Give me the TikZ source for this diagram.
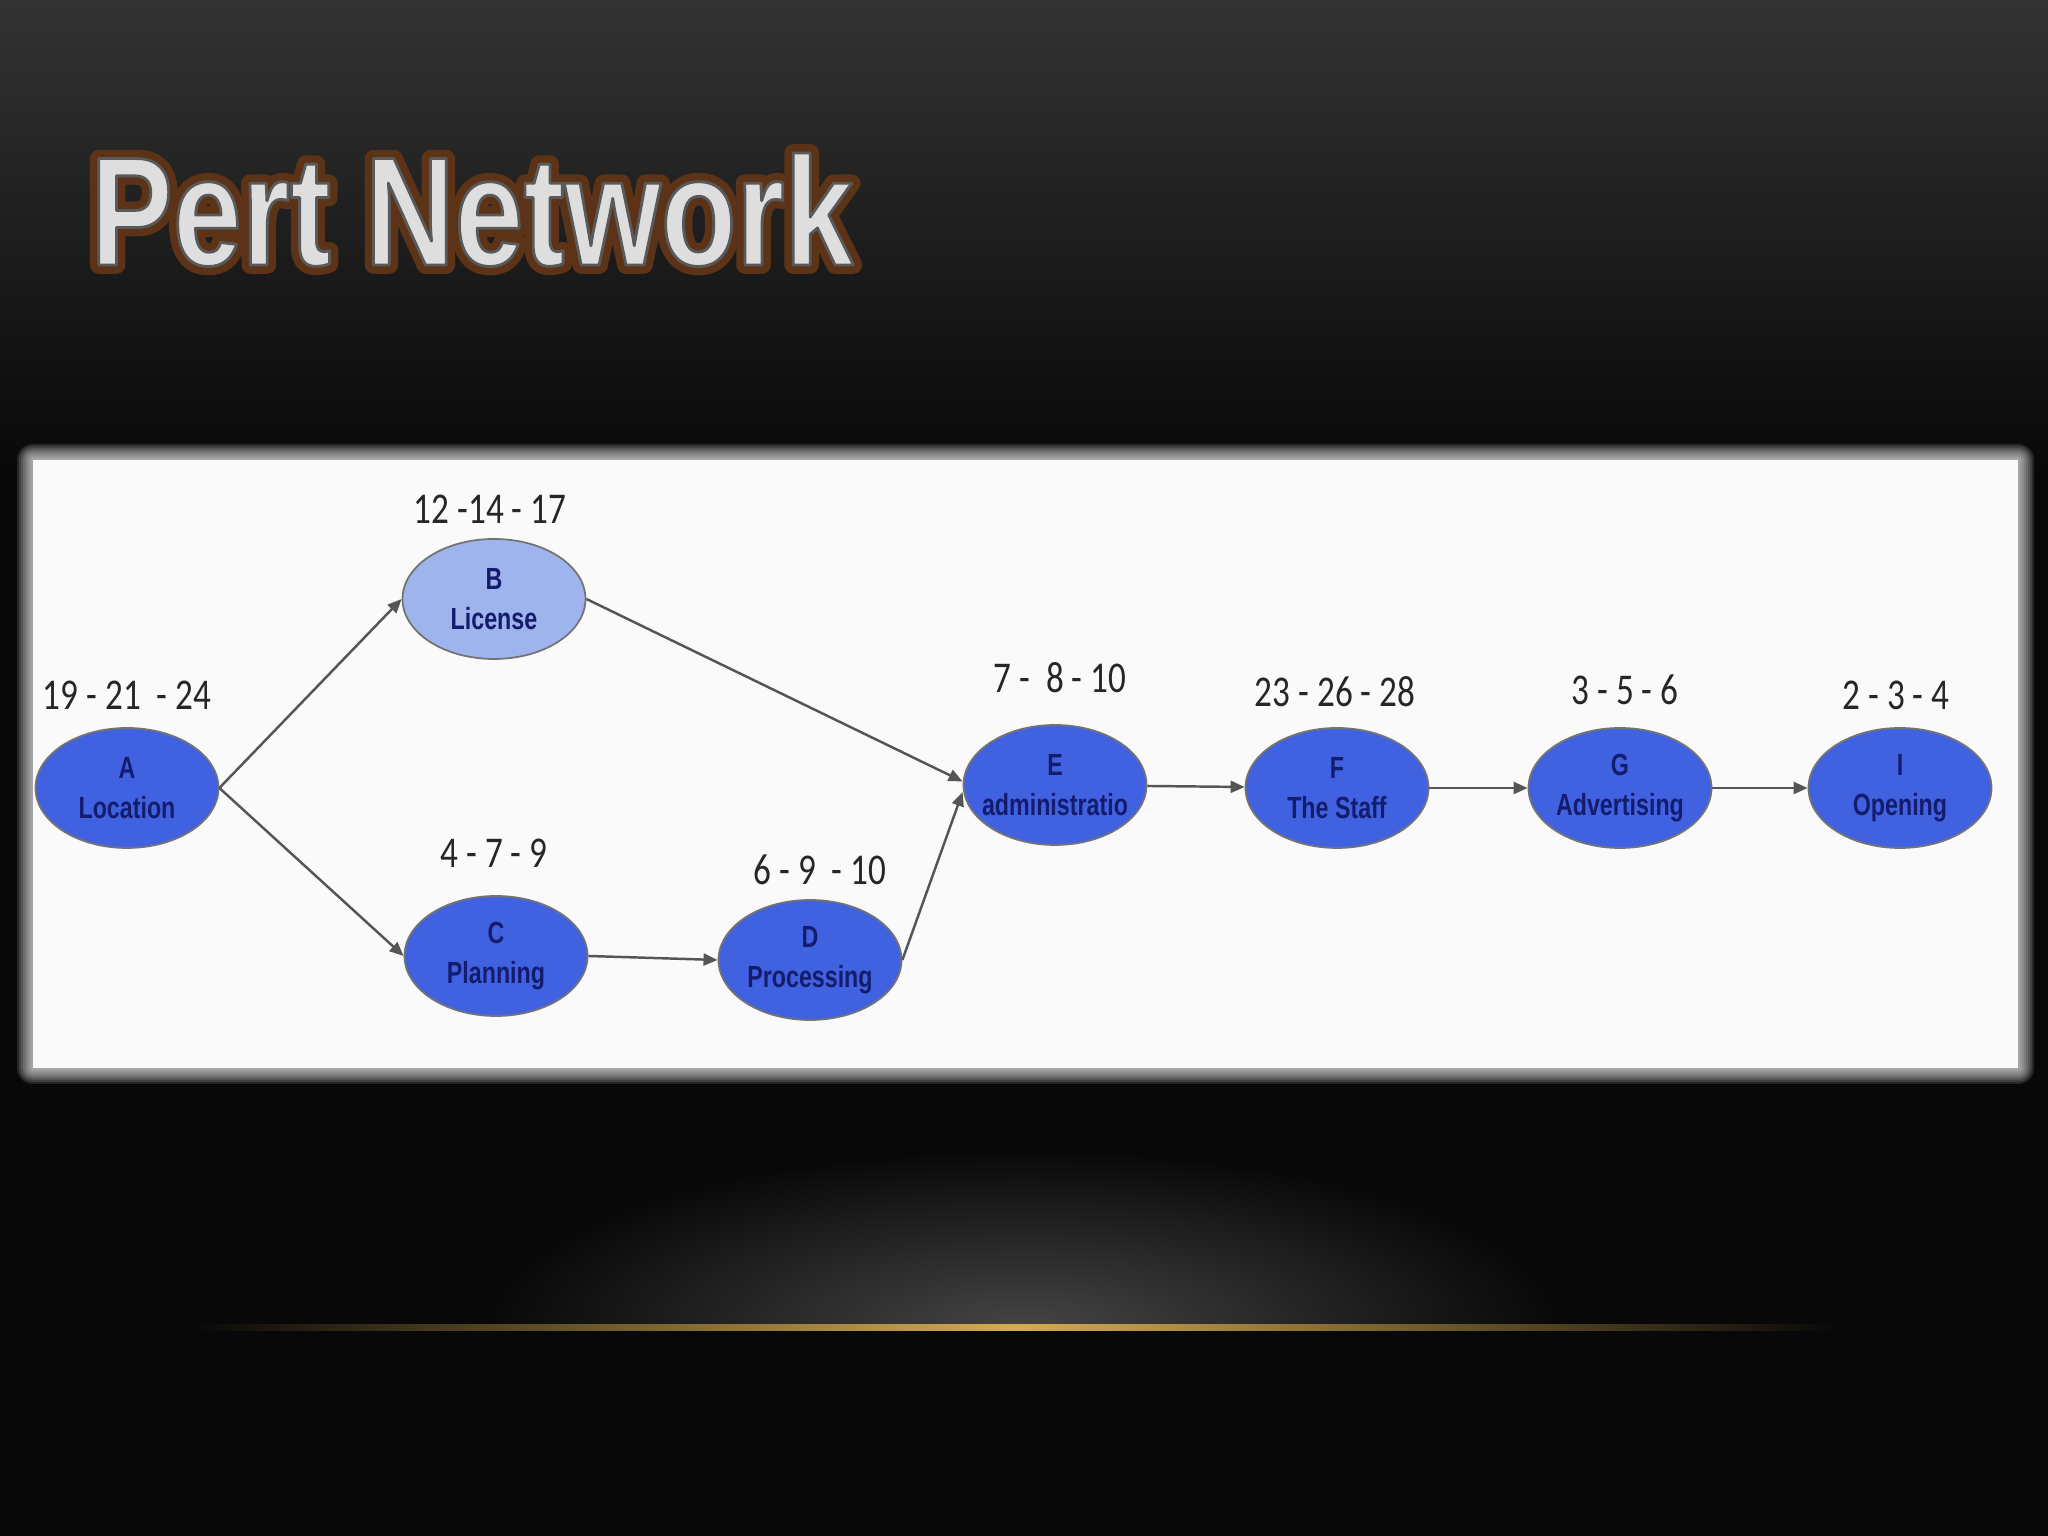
\documentclass[tikz,border=0pt]{standalone}
\usepackage{fontspec}
\usetikzlibrary{arrows.meta,shapes.geometric,positioning}
\newfontfamily\titlefont[FakeStretch=0.8]{Liberation Sans}
\newfontfamily\actfont[FakeStretch=0.76]{Liberation Sans}
\newfontfamily\timefont[FakeStretch=0.8]{Carlito}
\definecolor{actblue}{RGB}{64,98,224}
\definecolor{actlight}{RGB}{158,180,236}
\definecolor{acttext}{RGB}{20,28,110}
\definecolor{edgegray}{RGB}{85,85,85}
\definecolor{titlesilver}{RGB}{222,222,222}
\definecolor{gold}{RGB}{214,172,80}
% outlined title text: brown halo under a silver fill with a thin grey rim
\newcommand\halotext[1]{%
  \rlap{\special{pdf:literal direct 0.36 0.2 0.09 RG 5 w 1 j 1 Tr}#1\special{pdf:literal direct 0 Tr}}%
  \special{pdf:literal direct 0.35 0.35 0.35 RG 0.8 w 2 Tr}#1\special{pdf:literal direct 0 Tr 0 0 0 RG 0.4 w 0 j}}
\begin{document}
\begin{tikzpicture}[
  act/.style={ellipse,draw=black!55,line width=0.5pt,fill=actblue,
    minimum width=1.83cm,minimum height=1.2cm,inner sep=0pt,align=center,
    font=\actfont\bfseries\fontsize{8.7}{11.4}\selectfont,text=acttext},
  est/.style={font=\timefont\fontsize{12.5}{14}\selectfont,text=black!85},
  arc/.style={-{Triangle[length=4pt,width=3.4pt]},draw=edgegray,line width=0.7pt},
  ttl/.style={anchor=base west,font=\titlefont\bfseries\fontsize{44}{50}\selectfont}
]
  \useasboundingbox (0,0) rectangle (20.48,15.36);
  % slide background
  \fill[black!97] (0,0) rectangle (20.48,15.36);
  \shade[top color=black!80,bottom color=black!97] (0,10.6) rectangle (20.48,15.36);
  \begin{scope}
    \clip (0,2.08) rectangle (20.48,5);
    \shade[inner color=black!73,outer color=black!97] (10.24,2.08) ellipse (5.4cm and 1.8cm);
  \end{scope}
  \shade[left color=black!97,right color=black!97,middle color=gold] (1.9,2.05) rectangle (18.4,2.11);
  % title
  \node[ttl,text=titlesilver] (title) at (0.78,12.71) {\halotext{Pert Network}};
  % white panel with glow
  \foreach \g in {0.02,0.04,...,0.16}
    \fill[white,opacity=0.12,rounded corners=\g cm] (0.33-\g,4.68-\g) rectangle (20.18+\g,10.76+\g);
  \fill[white!98!black] (0.33,4.68) rectangle (20.18,10.76);
  % activities
  \node[act] (A) at (1.27,7.48) {A\\Location};
  \node[act,fill=actlight] (B) at (4.94,9.37) {B\\License};
  \node[act] (C) at (4.96,5.80) {C\\Planning};
  \node[act] (D) at (8.10,5.76) {D\\Processing};
  \node[act] (E) at (10.55,7.51) {E\\\makebox[1.2cm]{administratio}};
  \node[act] (F) at (13.37,7.48) {F\\The Staff};
  \node[act] (G) at (16.20,7.48) {G\\Advertising};
  \node[act] (I) at (19.00,7.48) {I\\Opening};
  % time estimates
  \node[est] (tA) at (1.27,8.41) {19 - 21 \ - 24};
  \node[est] (tB) at (4.90,10.27) {12 -14 - 17};
  \node[est] (tC) at (4.94,6.83) {4 - 7 - 9};
  \node[est] (tD) at (8.20,6.66) {6 - 9 \ - 10};
  \node[est] (tE) at (10.60,8.58) {7 - \ 8 - 10};
  \node[est] (tF) at (13.35,8.44) {23 - 26 - 28};
  \node[est] (tG) at (16.25,8.46) {3 - 5 - 6};
  \node[est] (tI) at (18.96,8.41) {2 - 3 - 4};
  % precedence
  \draw[arc] (A.east) -- (B.west);
  \draw[arc] (A.east) -- (C.west);
  \draw[arc] (B.east) -- ([yshift=1pt]E.west);
  \draw[arc] (C.east) -- (D.west);
  \draw[arc] (D.east) -- ([yshift=-2pt]E.west);
  \draw[arc] (E) -- (F);
  \draw[arc] (F) -- (G);
  \draw[arc] (G) -- (I);
\end{tikzpicture}
\end{document}
